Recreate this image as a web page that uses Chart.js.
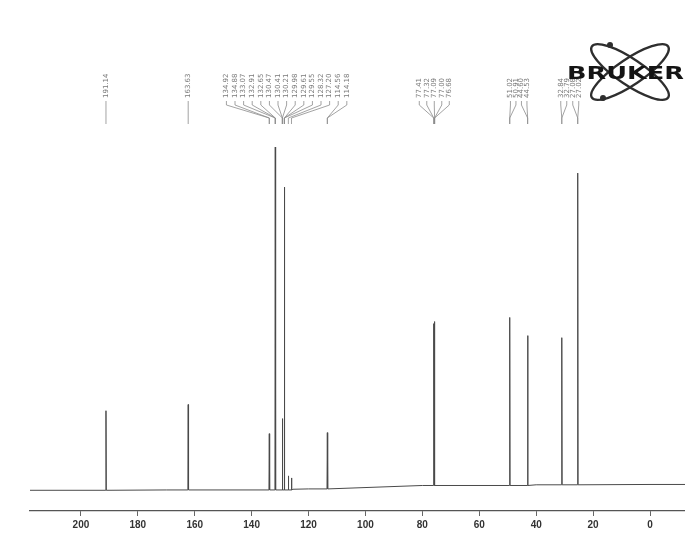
<!DOCTYPE html>
<html>
<head>
<meta charset="utf-8">
<script src="https://cdn.jsdelivr.net/npm/chart.js@4.4.1/dist/chart.umd.min.js"></script>
<style>
    html, body { margin: 0; padding: 0; background: #fff; }
    #wrap { width: 685px; height: 558px; }
</style>
</head>
<body>
<div id="wrap"><canvas id="nmr" width="685" height="558"></canvas></div>
<script>
// 13C spectrum, values (ppm / relative height)
const peakShifts  = [191.2, 162.3, 133.8, 131.7, 129.2, 128.5, 127.1, 126.0, 113.4, 76.0, 75.7, 49.3, 43.0, 31.0, 25.4];
const peakHeights = [23.1, 24.9, 16.4, 100, 20.8, 88.3, 4.1, 3.5, 16.7, 48.5, 49.1, 50.3, 45.0, 44.4, 92.4];

// baseline drifts up a little towards the right
const baseShifts = [217.9, 170, 125.5, 120, 80, 40, 0, -12.3];
const baseLevels = [-0.1, 0.0, 0.2, 0.3, 1.3, 1.5, 1.6, 1.6];

const axisTicks = [200, 180, 160, 140, 120, 100, 80, 60, 40, 20, 0];

// peak picking labels, each group fans out to the peaks it names
const labelGroups = [
    { spacing: 0, labels: ['191.14'], targets: [191.2] },
    { spacing: 0, labels: ['163.63'], targets: [162.3] },
    {
        spacing: 8.6,
        labels: ['134.92', '134.88', '133.07', '132.91', '132.65', '130.47', '130.41', '130.21',
                 '129.98', '129.61', '129.55', '128.32', '127.20', '114.56', '114.18'],
        targets: [133.8, 133.8, 131.7, 131.7, 131.7, 129.2, 129.2, 129.2,
                  128.5, 128.5, 128.5, 127.1, 126.0, 113.4, 113.4]
    },
    { spacing: 7.5, labels: ['77.41', '77.32', '77.09', '77.00', '76.68'], targets: [76.0, 76.0, 75.7, 75.7, 75.7] },
    { spacing: 5.5, labels: ['51.02', '50.91', '44.60', '44.53'], targets: [49.3, 49.3, 43.0, 43.0] },
    { spacing: 6, labels: ['32.84', '32.79', '27.08', '27.02'], targets: [31.0, 31.0, 25.4, 25.4] }
];

// baseline level just left of a shift (no interpolation, step from the last point)
function levelAt(ppm) {
    let lvl = baseLevels[0];
    for (let i = 0; i < baseShifts.length; i++) {
        if (baseShifts[i] >= ppm) lvl = baseLevels[i];
    }
    return lvl;
}

function buildSpectrum() {
    const pts = [];
    baseShifts.forEach((x, i) => pts.push({ x: x, y: baseLevels[i] }));
    peakShifts.forEach((p, i) => {
        const b = levelAt(p);
        pts.push({ x: p + 0.12, y: b });
        pts.push({ x: p, y: peakHeights[i] });
        pts.push({ x: p - 0.12, y: b });
    });
    // high ppm first, the axis is reversed
    pts.sort((a, b) => b.x - a.x);
    return pts;
}

// labels + connector lines above the peaks
const peakLabels = {
    id: 'peakLabels',
    afterDraw(chart) {
        const ctx = chart.ctx;
        const xs = chart.scales.x;
        ctx.save();
        ctx.strokeStyle = '#8c8c8c';
        ctx.fillStyle = '#7a7a7a';
        ctx.lineWidth = 0.8;
        ctx.font = '7px "DejaVu Sans"';
        ctx.textBaseline = 'middle';
        ctx.textAlign = 'left';
        labelGroups.forEach(g => {
            const px = g.targets.map(t => xs.getPixelForValue(t));
            const center = px.reduce((a, b) => a + b, 0) / px.length;
            const n = g.labels.length;
            g.labels.forEach((txt, i) => {
                const lx = center + (i - (n - 1) / 2) * g.spacing;
                ctx.save();
                ctx.translate(lx, 98);
                ctx.rotate(-Math.PI / 2);
                ctx.fillText(txt, 0, 0);
                ctx.restore();
                ctx.beginPath();
                ctx.moveTo(lx, 101);
                ctx.lineTo(lx, 105);
                ctx.lineTo(px[i], 118);
                ctx.lineTo(px[i], 124);
                ctx.stroke();
            });
        });
        ctx.restore();
    }
};

// Bruker logo, top right corner
const brukerLogo = {
    id: 'brukerLogo',
    afterDraw(chart) {
        const ctx = chart.ctx;
        ctx.save();
        ctx.strokeStyle = '#2e2e2e';
        ctx.lineWidth = 2.3;
        [34, -34].forEach(a => {
            ctx.beginPath();
            ctx.ellipse(630, 72, 46, 13, a * Math.PI / 180, 0, Math.PI * 2);
            ctx.stroke();
        });
        ctx.fillStyle = '#2e2e2e';
        [[610, 45], [603, 98]].forEach(d => {
            ctx.beginPath();
            ctx.arc(d[0], d[1], 3, 0, Math.PI * 2);
            ctx.fill();
        });
        ctx.font = 'bold 17px "DejaVu Sans"';
        ctx.textBaseline = 'alphabetic';
        const w = ctx.measureText('BRUKER').width;
        ctx.fillStyle = '#141414';
        ctx.translate(567, 79);
        ctx.scale(117 / w, 1);
        ctx.fillText('BRUKER', 0, 0);
        ctx.restore();
    }
};

const ctx = document.getElementById('nmr').getContext('2d');

new Chart(ctx, {
    type: 'line',
    data: {
        datasets: [{
            data: buildSpectrum(),
            borderColor: '#4a4a4a',
            borderWidth: 1,
            pointRadius: 0,
            tension: 0,
            fill: false
        }]
    },
    options: {
        responsive: false,
        animation: false,
        layout: { padding: { top: 147, left: 30, right: 0, bottom: 24 } },
        plugins: {
            legend: { display: false },
            tooltip: { enabled: false }
        },
        scales: {
            x: {
                type: 'linear',
                reverse: true,
                min: -12.3,
                max: 217.9,
                afterBuildTicks: s => { s.ticks = axisTicks.map(v => ({ value: v })); },
                ticks: {
                    autoSkip: false,
                    maxRotation: 0,
                    padding: 3,
                    color: '#333',
                    font: { family: '"Liberation Sans"', size: 10, weight: 'bold' }
                },
                grid: {
                    drawOnChartArea: false,
                    drawTicks: true,
                    tickLength: 5,
                    color: '#666'
                },
                border: { display: true, color: '#555', width: 1.2 }
            },
            y: {
                display: false,
                min: -6.14,
                max: 100
            }
        }
    },
    plugins: [peakLabels, brukerLogo]
});
</script>
</body>
</html>
